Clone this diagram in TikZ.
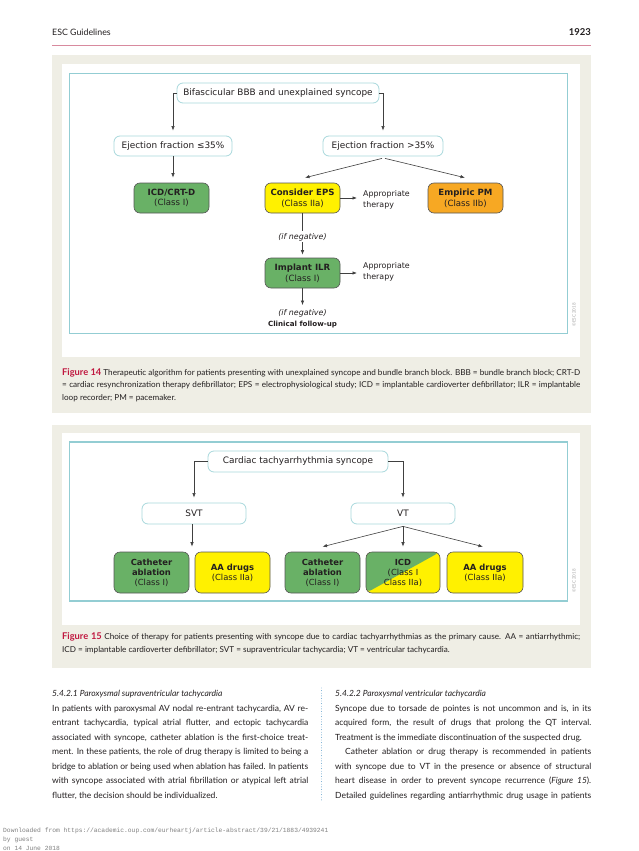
\documentclass[tikz,border=0pt]{standalone}
\usepackage{fontspec}
\setmainfont{Lato}
\newfontfamily\diagfont{DejaVu Sans}
\newfontfamily\footmono{Liberation Mono}
\usetikzlibrary{arrows.meta,calc}
\definecolor{beigebg}{HTML}{EFEEE5}
\definecolor{frameteal}{HTML}{93CDD3}
\definecolor{boxteal}{HTML}{A8D8DC}
\definecolor{pinkrule}{HTML}{D88A9E}
\definecolor{figred}{HTML}{C0173F}
\definecolor{boxgreen}{HTML}{69B166}
\definecolor{boxyellow}{HTML}{FFF100}
\definecolor{boxorange}{HTML}{F7A823}
\definecolor{darktext}{HTML}{231F20}
\definecolor{arrowgray}{HTML}{404040}
\definecolor{dotblue}{HTML}{6AA5CF}
\definecolor{edgegray}{HTML}{555555}
\begin{document}
\begin{tikzpicture}[x=1pt,y=-1pt,
 tbox/.style={draw=boxteal, line width=0.8pt, rounded corners=6pt, fill=white, text=darktext, font=\diagfont\fontsize{8.9}{10}\selectfont, inner sep=0pt, minimum height=20pt, align=center},
 cbox/.style={draw=edgegray, line width=0.6pt, rounded corners=6pt, text=darktext, font=\diagfont\fontsize{8.6}{10.7}\selectfont, inner sep=0pt, minimum width=75pt, minimum height=30pt, align=center},
 sbox/.style={cbox, minimum height=41pt, font=\diagfont\fontsize{8.4}{10}\selectfont},
 note/.style={text=darktext, font=\diagfont\fontsize{7.9}{11}\selectfont, inner sep=1pt, align=left},
 conn/.style={draw=arrowgray, line width=0.6pt, -{Latex[length=4.5pt,width=3.4pt]}},
 plain/.style={draw=arrowgray, line width=0.6pt},
 capline/.style={anchor=base west, inner sep=0pt, text=darktext, font=\fontsize{8.15}{9}\selectfont},
 bodyline/.style={anchor=base west, inner sep=0pt, text=darktext, font=\fontsize{8.5}{10}\selectfont},
 footline/.style={anchor=base west, inner sep=0pt, text=gray, font=\footmono\fontsize{6.3}{7}\selectfont},
 stamp/.style={rotate=90, inner sep=0pt, text=gray!70, font=\fontsize{4.5}{5}\selectfont}
]
\useasboundingbox (0,0) rectangle (638,851);
\fill[white] (0,0) rectangle (638,851);

% header
\node[anchor=base west, inner sep=0pt, text=darktext, font=\fontsize{8.8}{10}\selectfont] (hdl) at (52,35.5) {ESC Guidelines};
\node[anchor=base east, inner sep=0pt, text=darktext, font=\bfseries\fontsize{9.5}{10}\selectfont] (hdr) at (591,35.5) {1923};
\draw[pinkrule, line width=0.9pt] (52,45.5) -- (591,45.5);

% ---------------- Figure 14 panel
\fill[beigebg] (52,55) rectangle (591,413);
\fill[white] (62,64) rectangle (580,357);
\draw[frameteal, line width=1.1pt] (69.5,73.5) rectangle (567.5,333.5);
\node[stamp] (st1) at (574,315) {©ESC 2018};

\node[tbox, minimum width=202pt] (top) at (278,93) {Bifascicular BBB and unexplained syncope};
\node[tbox, minimum width=118pt] (efl) at (173,146) {Ejection fraction ≤35\%};
\node[tbox, minimum width=120pt] (efg) at (383,146) {Ejection fraction >35\%};
\node[cbox, fill=boxgreen] (icd) at (171.5,198) {\textbf{ICD/CRT-D}\\(Class I)};
\node[cbox, fill=boxyellow] (eps) at (302.5,198) {\textbf{Consider EPS}\\(Class IIa)};
\node[cbox, fill=boxorange] (pm) at (465.5,198) {\textbf{Empiric PM}\\(Class IIb)};
\node[note, anchor=west] (ap1) at (362,199.5) {Appropriate\\therapy};
\node[note, align=center, font=\diagfont\itshape\fontsize{7.9}{9}\selectfont] (neg1) at (302.5,237) {(if negative)};
\node[cbox, fill=boxgreen] (ilr) at (302.5,273) {\textbf{Implant ILR}\\(Class I)};
\node[note, anchor=west] (ap2) at (362,272) {Appropriate\\therapy};
\node[note, align=center] (fu) at (302.5,318.5) {\textit{(if negative)}\\{\bfseries\fontsize{7.1}{11}\selectfont Clinical follow-up}};

\draw[conn, shorten >=5pt] (top.west) -| (efl.north);
\draw[conn, shorten >=5pt] (top.east) -| (efg.north);
\draw[conn, shorten >=5pt] (efl.south) -- (efl.south |- icd.north);
\draw[conn] ($(efg.south)+(-1,2)$) -- ($(eps.north)+(2.5,-5)$);
\draw[conn] ($(efg.south)+(2,2)$) -- ($(pm.north)+(-0.5,-5)$);
\draw[conn, shorten >=5pt] (eps.east) -- (eps.east -| ap1.west);
\draw[plain, shorten >=1pt] (eps.south) -- (neg1.north);
\draw[conn, shorten >=3pt] (neg1.south) -- (ilr.north);
\draw[conn, shorten >=5pt] (ilr.east) -- (ilr.east -| ap2.west);
\draw[conn, shorten >=3pt] (ilr.south) -- (fu.north);

% caption 14
\node[capline] (c1a) at (62,375) {\makebox[518pt][s]{{\color{figred}\bfseries\fontsize{9.3}{10}\selectfont Figure 14} Therapeutic algorithm for patients presenting with unexplained syncope and bundle branch block. BBB = bundle branch block; CRT-D}};
\node[capline] (c1b) at (62,387.5) {\makebox[518pt][s]{= cardiac resynchronization therapy defibrillator; EPS = electrophysiological study; ICD = implantable cardioverter defibrillator; ILR = implantable}};
\node[capline] (c1c) at (62,400) {loop recorder; PM = pacemaker.};

% ---------------- Figure 15 panel
\fill[beigebg] (52,425) rectangle (591,668);
\fill[white] (62,433) rectangle (580,625);
\draw[frameteal, line width=1.1pt] (69.5,442) rectangle (567.5,601);
\node[stamp] (st2) at (574,581) {©ESC 2018};

\node[tbox, minimum width=180pt, minimum height=21pt] (cts) at (298,461.5) {Cardiac tachyarrhythmia syncope};
\node[tbox, minimum width=104pt, minimum height=21pt] (svt) at (194,513.5) {SVT};
\node[tbox, minimum width=104pt, minimum height=21pt] (vt) at (403,513.5) {VT};

\node[sbox, fill=boxgreen] (ca1) at (151.5,572.5) {\textbf{Catheter}\\\textbf{ablation}\\(Class I)};
\node[sbox, fill=boxyellow] (aa1) at (232.5,572.5) {\textbf{AA drugs}\\(Class IIa)};
\node[sbox, fill=boxgreen] (ca2) at (322.5,572.5) {\textbf{Catheter}\\\textbf{ablation}\\(Class I)};
\node[sbox, fill=boxyellow, minimum width=74pt,
  path picture={\fill[boxgreen] (path picture bounding box.south west) -- (path picture bounding box.north east) -- (path picture bounding box.north west) -- cycle;}] (icd2) at (403,572.5) {\textbf{ICD}\\(Class I\\Class IIa)};
\node[sbox, fill=boxyellow, minimum width=76pt] (aa2) at (485,572.5) {\textbf{AA drugs}\\(Class IIa)};

\coordinate (svtgap) at ($(ca1.north east)!0.5!(aa1.north west)+(0,-5)$);
\coordinate (vtfan) at ($(vt.south)+(0,2)$);
\draw[conn, shorten >=5pt] (cts.west) -| (svt.north);
\draw[conn, shorten >=5pt] (cts.east) -| (vt.north);
\draw[conn] (svt.south -| svtgap) -- (svtgap);
\draw[conn] (vtfan) -- ($(ca2.north)+(0,-5)$);
\draw[conn] (vtfan) -- ($(icd2.north)+(0,-5)$);
\draw[conn] (vtfan) -- ($(aa2.north)+(-2,-5)$);

% caption 15
\node[capline] (c2a) at (62,639) {\makebox[518pt][s]{{\color{figred}\bfseries\fontsize{9.3}{10}\selectfont Figure 15} Choice of therapy for patients presenting with syncope due to cardiac tachyarrhythmias as the primary cause. AA = antiarrhythmic;}};
\node[capline] (c2b) at (62,652) {ICD = implantable cardioverter defibrillator; SVT = supraventricular tachycardia; VT = ventricular tachycardia.};

% ---------------- body text
\draw[dotblue, line width=0.9pt, line cap=round, dash pattern=on 0pt off 2.6pt] (321.5,688) -- (321.5,800);

\node[bodyline] (l1) at (52,696.5) {\textit{5.4.2.1 Paroxysmal supraventricular tachycardia}};
\node[bodyline] (l2) at (52,711) {\makebox[256pt][s]{In patients with paroxysmal AV nodal re-entrant tachycardia, AV re-}};
\node[bodyline] (l3) at (52,725.5) {\makebox[256pt][s]{entrant tachycardia, typical atrial flutter, and ectopic tachycardia}};
\node[bodyline] (l4) at (52,740) {\makebox[256pt][s]{associated with syncope, catheter ablation is the first-choice treat-}};
\node[bodyline] (l5) at (52,754.5) {\makebox[256pt][s]{ment. In these patients, the role of drug therapy is limited to being a}};
\node[bodyline] (l6) at (52,769) {\makebox[256pt][s]{bridge to ablation or being used when ablation has failed. In patients}};
\node[bodyline] (l7) at (52,783.5) {\makebox[256pt][s]{with syncope associated with atrial fibrillation or atypical left atrial}};
\node[bodyline] (l8) at (52,798) {flutter, the decision should be individualized.};

\node[bodyline] (r1) at (335,696.5) {\textit{5.4.2.2 Paroxysmal ventricular tachycardia}};
\node[bodyline] (r2) at (335,711) {\makebox[256pt][s]{Syncope due to torsade de pointes is not uncommon and is, in its}};
\node[bodyline] (r3) at (335,725.5) {\makebox[256pt][s]{acquired form, the result of drugs that prolong the QT interval.}};
\node[bodyline] (r4) at (335,740) {Treatment is the immediate discontinuation of the suspected drug.};
\node[bodyline] (r5) at (345,754.5) {\makebox[246pt][s]{Catheter ablation or drug therapy is recommended in patients}};
\node[bodyline] (r6) at (335,769) {\makebox[256pt][s]{with syncope due to VT in the presence or absence of structural}};
\node[bodyline] (r7) at (335,783.5) {\makebox[256pt][s]{heart disease in order to prevent syncope recurrence (\textit{Figure 15}).}};
\node[bodyline] (r8) at (335,798) {\makebox[256pt][s]{Detailed guidelines regarding antiarrhythmic drug usage in patients}};

% footer
\node[footline] (f1) at (3,832) {Downloaded from https://academic.oup.com/eurheartj/article-abstract/39/21/1883/4939241};
\node[footline] (f2) at (3,841) {by guest};
\node[footline] (f3) at (3,850) {on 14 June 2018};
\end{tikzpicture}
\end{document}
